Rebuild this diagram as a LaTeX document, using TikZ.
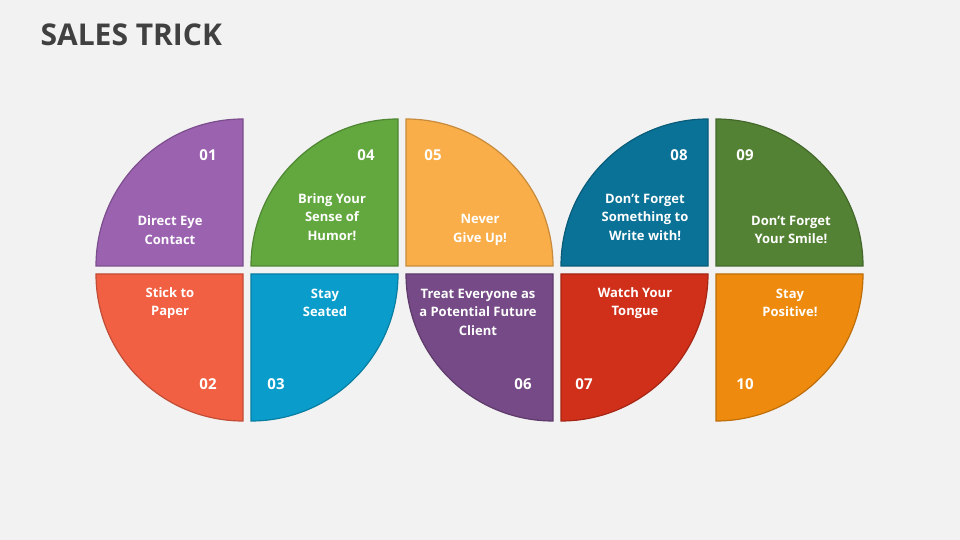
\documentclass[tikz,border=0pt]{standalone}
\usepackage{fontspec}
\setmainfont{Open Sans}
\begin{document}
\begin{tikzpicture}[x=1pt,y=1pt,
 lbl/.style={text=white,font=\fontsize{13}{18.5}\selectfont\bfseries,align=center},
 num/.style={text=white,font=\fontsize{15}{18}\selectfont\bfseries}]
\fill[black!5] (0,0) rectangle (960,540);
\useasboundingbox (0,0) rectangle (960,540);
\node[anchor=west,text=black!75,font=\fontsize{30}{34}\selectfont\bfseries] (title) at (37,505) {SALES TRICK};
\def\r{147}
\newcommand\qtl[3]{\filldraw[fill=#3,draw=#3!80!black,line width=1.2pt] (#1,#2) -- (#1-\r,#2) arc[start angle=180,end angle=90,radius=\r] -- cycle;}
\newcommand\qtr[3]{\filldraw[fill=#3,draw=#3!80!black,line width=1.2pt] (#1,#2) -- (#1,#2+\r) arc[start angle=90,end angle=0,radius=\r] -- cycle;}
\newcommand\qbl[3]{\filldraw[fill=#3,draw=#3!80!black,line width=1.2pt] (#1,#2) -- (#1-\r,#2) arc[start angle=180,end angle=270,radius=\r] -- cycle;}
\newcommand\qbr[3]{\filldraw[fill=#3,draw=#3!80!black,line width=1.2pt] (#1,#2) -- (#1,#2-\r) arc[start angle=270,end angle=360,radius=\r] -- cycle;}
\definecolor{c1}{HTML}{9B62B0}\definecolor{c2}{HTML}{F26043}
\definecolor{c3}{HTML}{0A9DCB}\definecolor{c4}{HTML}{62A83E}
\definecolor{c5}{HTML}{F9AE4A}\definecolor{c6}{HTML}{754A86}
\definecolor{c7}{HTML}{D0301A}\definecolor{c8}{HTML}{0A7297}
\definecolor{c9}{HTML}{548234}\definecolor{c10}{HTML}{EE8A0D}
\qtl{243}{274}{c1}
\qbl{243}{266}{c2}
\qbr{251}{266}{c3}
\qtl{398}{274}{c4}
\qtr{406}{274}{c5}
\qbl{553}{266}{c6}
\qbr{561}{266}{c7}
\qtl{708}{274}{c8}
\qtr{716}{274}{c9}
\qbr{716}{266}{c10}
\node[num] (n1) at (208,385) {01};
\node[lbl] (l1) at (170,310) {Direct Eye\\Contact};
\node[lbl] (l2) at (170,237) {Stick to\\Paper};
\node[num] (n2) at (208,156) {02};
\node[lbl] (l3) at (325,237) {Stay\\Seated};
\node[num] (n3) at (276,156) {03};
\node[num] (n4) at (366,385) {04};
\node[lbl] (l4) at (332,323) {Bring Your\\Sense of\\Humor!};
\node[num] (n5) at (433,385) {05};
\node[lbl] (l5) at (480,310) {Never\\Give Up!};
\node[lbl] (l6) at (478,228) {Treat Everyone as\\a Potential Future\\Client};
\node[num] (n6) at (523,156) {06};
\node[lbl] (l7) at (635,237) {Watch Your\\Tongue};
\node[num] (n7) at (584,156) {07};
\node[num] (n8) at (679,385) {08};
\node[lbl] (l8) at (645,323) {Don’t Forget\\Something to\\Write with!};
\node[num] (n9) at (745,385) {09};
\node[lbl] (l9) at (791,310) {Don’t Forget\\Your Smile!};
\node[lbl] (l10) at (790,237) {Stay\\Positive!};
\node[num] (n10) at (745,156) {10};
\end{tikzpicture}
\end{document}
